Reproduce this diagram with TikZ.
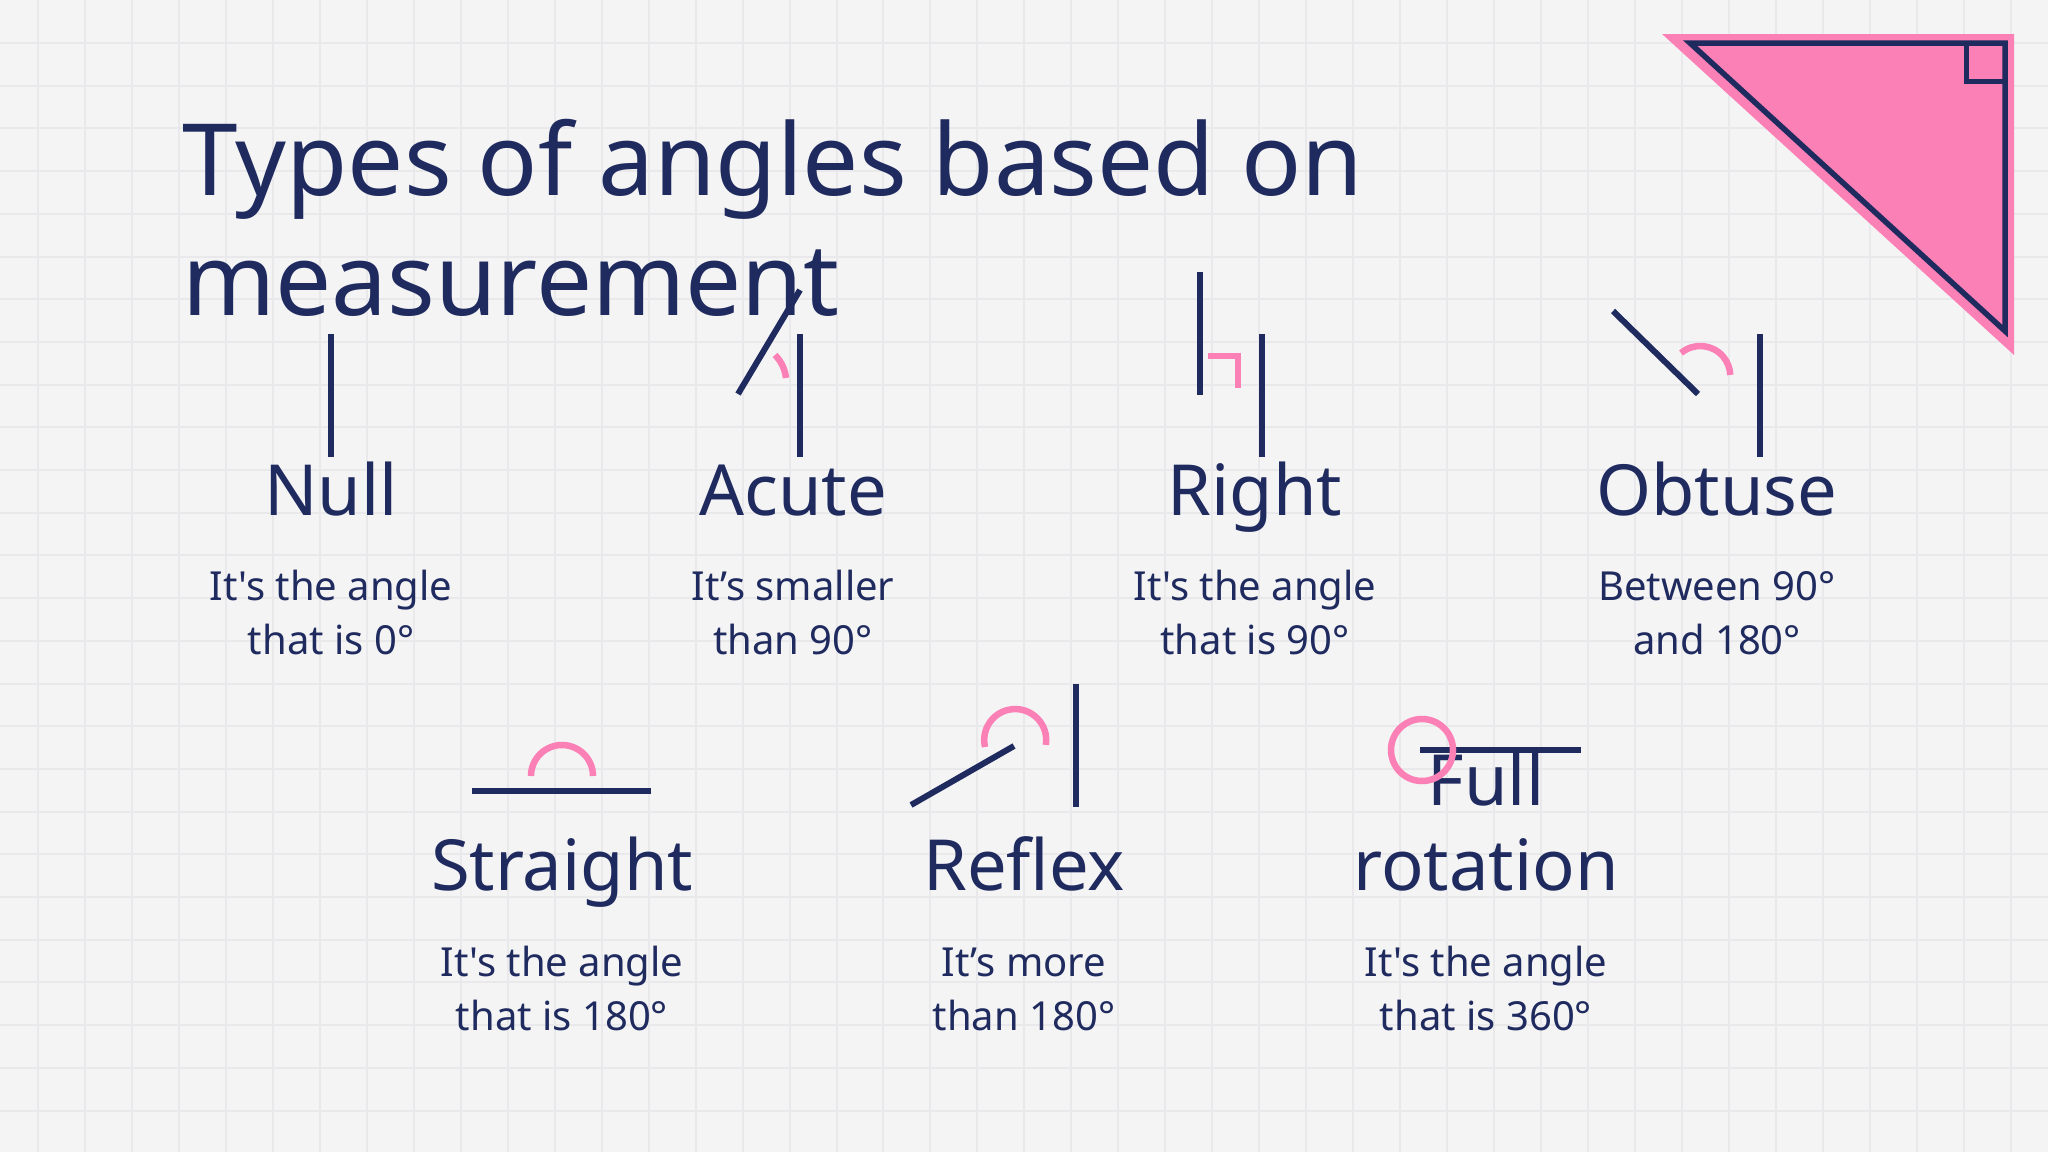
\documentclass[tikz,border=0pt]{standalone}
\usepackage{fontspec}
\setmainfont{Noto Sans}[Ligatures=TeXOff]
\definecolor{paper}{HTML}{F4F4F5}
\definecolor{gridc}{HTML}{E9E9EB}
\definecolor{navy}{HTML}{1F2A5E}
\definecolor{rose}{HTML}{FB80B5}
\tikzset{
 gridline/.style={draw=gridc,line width=2pt},
 ink/.style={draw=navy,line width=6pt},
 arcpink/.style={draw=rose,line width=6.5pt},
 titletext/.style={anchor=base west,inner sep=0pt,text=navy,font=\fontsize{99.7}{120}\selectfont},
 headtext/.style={anchor=base,inner sep=0pt,text=navy,font=\fontsize{70.5}{86}\selectfont},
 bodytext/.style={anchor=base,inner sep=0pt,text=navy,font=\fontsize{40}{54}\selectfont},
}
\begin{document}
\begin{tikzpicture}[x=1pt,y=-1pt]
\useasboundingbox (0,0) rectangle (2048,1152);
\fill[paper] (0,0) rectangle (2048,1152);
\foreach \k in {0,...,43} {\draw[gridline] ({38+46.97*\k},0) -- ({38+46.97*\k},1152);}
\foreach \k in {0,...,25} {\draw[gridline] (0,{43+42.7*\k}) -- (2048,{43+42.7*\k});}
% corner triangle
\fill[rose] (1662,34) -- (2014,34) -- (2014,355) -- cycle;
\draw[draw=navy,line width=5.5pt,miter limit=10] (1690,43) -- (2005,43) -- (2005,331) -- cycle;
\draw[draw=navy,line width=5pt] (1966,43) -- (1966,81) -- (2005,81);
% title
\node[titletext] (t1) at (182,195) {Types of angles based on};
\node[titletext] (t2) at (182,315) {measurement};
% Null
\draw[ink] (331,334) -- (331,457);
\node[headtext] (h1) at (331,515) {Null};
\node[bodytext] (b1a) at (331,600) {It's the angle};
\node[bodytext] (b1b) at (331,654) {that is 0°};
% Acute
\draw[ink] (738,394) -- (800,290);
\draw[ink] (800,334) -- (800,457);
\draw[arcpink] (775,355) .. controls (781,361) and (785,369) .. (786,378);
\node[headtext] (h2) at (793,515) {Acute};
\node[bodytext] (b2a) at (793,600) {It’s smaller};
\node[bodytext] (b2b) at (793,654) {than 90°};
% Right
\draw[ink] (1200,272) -- (1200,395);
\draw[ink] (1262,334) -- (1262,457);
\draw[arcpink] (1208,356) -- (1238,356) -- (1238,388);
\node[headtext] (h3) at (1255,515) {Right};
\node[bodytext] (b3a) at (1255,600) {It's the angle};
\node[bodytext] (b3b) at (1255,654) {that is 90°};
% Obtuse
\draw[ink] (1613,311) -- (1698,394);
\draw[ink] (1760,334) -- (1760,457);
\draw[arcpink] (1681,353) arc[start angle=130,end angle=2,radius=30pt];
\node[headtext] (h4) at (1717,515) {Obtuse};
\node[bodytext] (b4a) at (1717,600) {Between 90°};
\node[bodytext] (b4b) at (1717,654) {and 180°};
% Straight
\draw[ink] (472,791) -- (651,791);
\draw[arcpink] (531,776) arc[start angle=180,end angle=0,radius=31pt];
\node[headtext] (h5) at (562,890) {Straight};
\node[bodytext] (b5a) at (562,976) {It's the angle};
\node[bodytext] (b5b) at (562,1030) {that is 180°};
% Reflex
\draw[ink] (1076,684) -- (1076,807);
\draw[ink] (911,805) -- (1014,746);
\draw[arcpink] (985,747) arc[start angle=193,end angle=-9,radius=31pt];
\node[headtext] (h6) at (1024,890) {Reflex};
\node[bodytext] (b6a) at (1024,976) {It’s more};
\node[bodytext] (b6b) at (1024,1030) {than 180°};
% Full rotation
\node[headtext] (h7a) at (1486,805) {Full};
\node[headtext] (h7b) at (1486,890) {rotation};
\draw[ink] (1420,750) -- (1581,750);
\draw[arcpink] (1422,750) circle[radius=31pt];
\node[bodytext] (b7a) at (1486,976) {It's the angle};
\node[bodytext] (b7b) at (1486,1030) {that is 360°};
\end{tikzpicture}
\end{document}
